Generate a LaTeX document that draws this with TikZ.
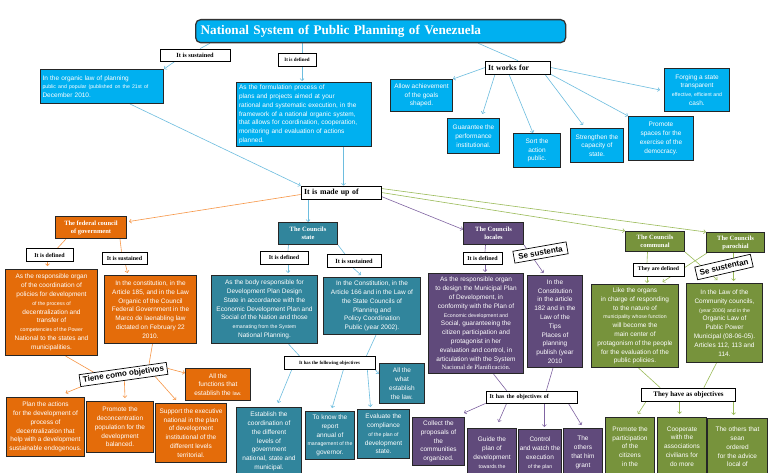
\documentclass[tikz,border=0pt]{standalone}
\usepackage{fontspec}
\setmainfont{Liberation Serif}
\newfontfamily\arialfont{Liberation Sans}
\usepackage{tikz}
\usetikzlibrary{arrows.meta,calc,backgrounds}
\definecolor{cyanfill}{HTML}{00B0F0}
\definecolor{orangefill}{HTML}{E46C0A}
\definecolor{tealfill}{HTML}{31859C}
\definecolor{purplefill}{HTML}{604A7B}
\definecolor{greenfill}{HTML}{77933C}
\definecolor{cyanline}{HTML}{6DBDDF}
\definecolor{orangeline}{HTML}{F79646}
\definecolor{purpleline}{HTML}{8064A2}
\definecolor{greenline}{HTML}{9BBB59}
\newcommand\boxfont{\arialfont\fontsize{6.5}{8.8}\selectfont}
\newcommand\sm{\fontsize{5.2}{8.8}\selectfont}

\begin{document}
\begin{tikzpicture}[x=1pt,y=-1pt,
  cellbox/.style={draw=black!85,line width=1pt,anchor=north west,align=center,text=white,font=\boxfont,inner sep=1pt},
  cbox/.style={cellbox,fill=cyanfill},
  obox/.style={cellbox,fill=orangefill},
  tbox/.style={cellbox,fill=tealfill},
  pbox/.style={cellbox,fill=purplefill},
  gbox/.style={cellbox,fill=greenfill},
  headbox/.style={draw=black!85,line width=1pt,anchor=north west,align=center,text=white,inner sep=1pt,font=\bfseries\fontsize{6.5}{8}\selectfont,minimum height=22pt},
  tagbox/.style={draw=black,line width=0.7pt,fill=white,inner sep=1pt,font=\bfseries\fontsize{#1}{#1}\selectfont},
  slantbox/.style={draw=black,line width=0.7pt,fill=white,inner sep=1pt,font=\arialfont\bfseries\fontsize{8}{8}\selectfont},
  cline/.style={draw=cyanline,line width=0.6pt},
  carr/.style={cline,-{Straight Barb[length=2pt,width=4pt]}},
  oline/.style={draw=orangeline,line width=0.6pt},
  oarr/.style={oline,-{Straight Barb[length=2pt,width=4pt]}},
  pline/.style={draw=purpleline,line width=0.6pt},
  parr/.style={pline,-{Straight Barb[length=2pt,width=4pt]}},
  gline/.style={draw=greenline,line width=0.6pt},
  garr/.style={gline,-{Straight Barb[length=2pt,width=4pt]}}
]
\useasboundingbox (0,0) rectangle (768,473);
\clip (0,0) rectangle (768,473);

% title and what the system works for
\node[draw=black!80,line width=1.3pt,rounded corners=5pt,fill=cyanfill,anchor=north west,minimum width=370pt,minimum height=23pt,text width=360pt,align=left,text=white,font=\bfseries\fontsize{13.2}{14}\selectfont] (title) at (195,19) {National System of Public Planning of Venezuela};
\node[tagbox=6.3,minimum width=70pt,minimum height=12pt] (lSust) at (195,55) {It is sustained};
\node[tagbox=5,minimum width=38pt,minimum height=13pt] (lDef) at (297,59.5) {It is defined};
\node[tagbox=7.8,minimum width=65pt,minimum height=13pt,text width=60pt,align=left] (lWorks) at (518,67.5) {It works for};
\node[cbox,minimum width=123pt,minimum height=34pt,text width=119pt,align=left] (bLaw) at (40,69) {In the organic law of planning\\{\sm public and popular (published on the 21st of}\\December 2010.};
\node[cbox,minimum width=135pt,minimum height=64pt,text width=130pt,align=left] (bDef) at (236,82) {As the formulation process of\\plans and projects aimed at your\\rational and systematic execution, in the\\framework of a national organic system,\\that allows for coordination, cooperation,\\monitoring and evaluation of actions\\planned.};
\node[cbox,minimum width=62pt,minimum height=32pt] (w1) at (390,79) {Allow achievement\\of the goals\\shaped.};
\node[cbox,minimum width=52pt,minimum height=35pt] (w2) at (447,118) {Guarantee the\\performance\\institutional.};
\node[cbox,minimum width=47pt,minimum height=34pt] (w3) at (513,133) {Sort the\\action\\public.};
\node[cbox,minimum width=53pt,minimum height=34pt] (w4) at (570,128) {Strengthen the\\capacity of\\state.};
\node[cbox,minimum width=65pt,minimum height=44pt] (w5) at (628,116) {Promote\\spaces for the\\exercise of the\\democracy.};
\node[cbox,minimum width=65pt,minimum height=43pt] (w6) at (664,68) {Forging a state\\transparent\\{\sm effective, efficient and}\\cash.};
\node[tagbox=7.8,minimum width=80pt,minimum height=13pt,text width=74pt,align=left] (lMade) at (341,192.5) {It is made up of};

% federal council
\node[headbox,fill=orangefill,minimum width=71pt] (fed) at (55,216) {The federal council\\of government};
\node[tagbox=6,minimum width=47pt,minimum height=13pt] (fedLdef) at (49.5,255) {It is defined};
\node[tagbox=6,minimum width=45pt,minimum height=12pt] (fedLsus) at (124.5,258) {It is sustained};
\node[obox,minimum width=92pt,minimum height=86pt] (fedDef) at (5,269) {As the responsible organ\\of the coordination of\\policies for development\\{\sm of the process of}\\decentralization and\\transfer of\\{\sm competencies of the Power}\\National to the states and\\municipalities.};
\node[obox,minimum width=92pt,minimum height=68pt] (fedSus) at (104,275) {In the constitution, in the\\Article 185, and in the Law\\Organic of the Council\\Federal Government in the\\Marco de laenabling law\\dictated on February 22\\2010.};
\node[slantbox,rotate=8,minimum width=88pt,minimum height=12pt] (fedObj) at (123.5,374.5) {Tiene como objetivos};
\node[obox,minimum width=65pt,minimum height=32pt] (fedAll) at (185,368) {All the\\functions that\\establish the {\sm law.}};
\node[obox,minimum width=78pt,minimum height=59pt] (fedO1) at (6,397) {Plan the actions\\for the development of\\process of\\decentralization that\\help with a development\\sustainable endogenous.};
\node[obox,minimum width=67pt,minimum height=51pt] (fedO2) at (86,401) {Promote the\\deconcentration\\population for the\\development\\balanced.};
\node[obox,minimum width=71pt,minimum height=59pt] (fedO3) at (155,403) {Support the executive\\national in the plan\\of development\\institutional of the\\different levels\\territorial.};

% state councils
\node[headbox,fill=tealfill,minimum width=59pt] (est) at (278,222) {The Councils\\state};
\node[tagbox=6,minimum width=48pt,minimum height=13pt] (estLdef) at (284,257.5) {It is defined};
\node[tagbox=6.3,minimum width=54pt,minimum height=13pt] (estLsus) at (354,261) {It is sustained};
\node[tbox,minimum width=106pt,minimum height=68pt] (estDef) at (211,275) {As the body responsible for\\Development Plan Design\\State in accordance with the\\Economic Development Plan and\\Social of the Nation and those\\{\sm emanating from the System}\\National Planning.};
\node[tbox,minimum width=97pt,minimum height=57pt] (estSus) at (323,277) {In the Constitution, in the\\Article 166 and in the Law of\\the State Councils of\\Planning and\\Policy Coordination\\Public (year 2002).};
\node[tagbox=4.8,minimum width=91pt,minimum height=13pt] (estObj) at (329.5,363) {It has the following objectives};
\node[tbox,minimum width=45pt,minimum height=40pt] (estAll) at (379,363) {All the\\what\\establish\\the law.};
\node[tbox,minimum width=65pt,minimum height=68pt] (estO1) at (236,407) {Establish the\\coordination of\\the different\\levels of\\government\\national, state and\\municipal.};
\node[tbox,minimum width=49pt,minimum height=48pt] (estO2) at (305,411) {To know the\\report\\annual of\\{\sm management of the}\\governor.};
\node[tbox,minimum width=52pt,minimum height=49pt] (estO3) at (357,409) {Evaluate the\\compliance\\{\sm of the plan of}\\development\\state.};

% local councils
\node[headbox,fill=purplefill,minimum width=60pt] (loc) at (463,222) {The Councils\\locales};
\node[tagbox=6,minimum width=39pt,minimum height=12pt] (locLdef) at (482.5,258) {It is defined};
\node[pbox,minimum width=95pt,minimum height=100pt] (locDef) at (428,273) {As the responsible organ\\to design the Municipal Plan\\of Development, in\\conformity with the Plan of\\{\sm Economic development and}\\Social, guaranteeing the\\citizen participation and\\protagonist in her\\evaluation and control, in\\articulation with the System\\{\rmfamily Nacional de Planificación.}};
\node[pbox,minimum width=55pt,minimum height=92pt] (locSus) at (527,275) {In the\\Constitution\\in the article\\182 and in the\\Law of the\\Tips\\Places of\\planning\\publish (year\\2010};
\node[slantbox,rotate=10,minimum width=54pt,minimum height=12pt] (locLsus) at (540.5,252.5) {Se sustenta};
\node[tagbox=6,minimum width=91pt,minimum height=12pt,text width=84pt,align=left] (locObj) at (531.5,397) {It has the objectives of};
\node[pbox,minimum width=52pt,minimum height=48pt] (locO1) at (412,417) {Collect the\\proposals of\\the\\communities\\organized.};
\node[pbox,minimum width=49pt,minimum height=48pt] (locO2) at (467,428) {Guide the\\plan of\\development\\{\sm towards the}};
\node[pbox,minimum width=43pt,minimum height=47pt] (locO3) at (518,429) {Control\\and watch the\\execution\\{\sm of the plan}};
\node[pbox,minimum width=39pt,minimum height=48pt] (locO4) at (563,428) {The\\others\\that him\\grant};

% communal and parochial councils
\node[headbox,fill=greenfill,minimum width=59pt,minimum height=20pt] (com) at (625,231) {The Councils\\communal};
\node[headbox,fill=greenfill,minimum width=58pt,minimum height=20pt] (par) at (706,232) {The Councils\\parochial};
\node[tagbox=5.7,minimum width=51pt,minimum height=13pt] (comLdef) at (658.5,269.5) {They are defined};
\node[gbox,minimum width=87pt,minimum height=83pt] (comDef) at (591,284) {Like the organs\\in charge of responding\\to the nature of\\{\sm municipality whose function}\\will become the\\main center of\\protagonism of the people\\for the evaluation of the\\public policies.};
\node[gbox,minimum width=76pt,minimum height=79pt] (comSus) at (686,283) {In the Law of the\\Community councils,\\{\sm (year 2006) and in the}\\Organic Law of\\Public Power\\Municipal (08-06-05).\\Articles 112, 113 and\\114.};
\node[slantbox,rotate=13,minimum width=57pt,minimum height=13pt] (comLsus) at (724,267) {Se sustentan};
\node[tagbox=7,minimum width=94pt,minimum height=13pt] (comObj) at (688.5,394.5) {They have as objectives};
\node[gbox,minimum width=49pt,minimum height=58pt] (comO1) at (605,417) {Promote the\\participation\\of the\\citizens\\in the};
\node[gbox,minimum width=49pt,minimum height=58pt] (comO2) at (657,417) {Cooperate\\with the\\associations\\civilians for\\do more};
\node[gbox,minimum width=60pt,minimum height=57pt] (comO3) at (707,418) {The others that\\sean\\ordered\\for the advice\\local of};

\begin{pgfonlayer}{background}
\fill[white] (0,0) rectangle (768,473);
% cyan links
\draw[cline] ([xshift=15pt]title.south west) -- ([xshift=5pt]lSust.north);
\draw[carr] ([xshift=-20pt]lSust.south) -- (bLaw.north east);
\coordinate (dA) at ([xshift=5pt]lDef.north);
\coordinate (dB) at ([xshift=5pt]lDef.south);
\draw[cline] (dA |- title.south) -- (dA);
\draw[carr,shorten >=1pt] (dB) -- (dB |- bDef.north);
\draw[cline] ([xshift=-88pt]title.south east) -- (lWorks.north);
\draw[carr] (lWorks.west) -- (w1.north east);
\draw[carr] ([xshift=-23pt]lWorks.south) -- ([xshift=9pt,yshift=4pt]w2.north);
\draw[carr] ([xshift=-9pt]lWorks.south) -- ([xshift=-4pt]w3.north);
\draw[carr] ([xshift=27pt]lWorks.south) -- ([xshift=-14pt,yshift=3pt]w4.north);
\draw[carr] (lWorks.south east) -- (w5.north west);
\draw[carr] (lWorks.east) -- ([xshift=-4pt]w6.west);
\draw[carr] ([xshift=28pt]bLaw.south) -- (lMade.north west);
\coordinate (dC) at ([xshift=39.5pt]bDef.south);
\draw[carr] (dC) -- (dC |- lMade.north);
\draw[carr] (est.north |- lMade.south) -- (est.north);
% orange links
\draw[oarr] ([yshift=-2pt]lMade.west) -- ([xshift=2pt,yshift=6pt]fed.east);
\draw[oline] ([xshift=-25pt]fed.south) -- ([xshift=8pt]fedLdef.north);
\draw[oarr] ([xshift=-2pt]fedLdef.south) -- ([xshift=-4pt,yshift=3pt]fedDef.north);
\draw[oline] ([xshift=29pt]fed.south) -- ([xshift=-3pt]fedLsus.north);
\draw[oarr] ([xshift=1pt]fedLsus.south) -- ([xshift=-23pt,yshift=2pt]fedSus.north);
\draw[oline] ([xshift=14pt]fedDef.south) -- ($(fedObj.north west)!0.17!(fedObj.north east)$);
\draw[oline] ([xshift=2pt]fedSus.south) -- ($(fedObj.north west)!0.8!(fedObj.north east)$);
\draw[oarr] (fedObj.east) -- ([yshift=-5pt]fedAll.north west);
\draw[oarr] (fedObj.south west) -- ([xshift=20pt,yshift=4pt]fedO1.north);
\draw[oarr] (fedObj.south) -- ([xshift=5pt,yshift=3pt]fedO2.north);
\draw[oarr] ($(fedObj.south west)!0.85!(fedObj.south east)$) -- ([xshift=-15pt,yshift=3pt]fedO3.north);
% teal links
\draw[cline] ([xshift=-19.5pt]est.south) -- ([xshift=4pt]estLdef.north);
\coordinate (dD) at ([xshift=4pt]estLdef.south);
\draw[carr,shorten >=2pt] (dD) -- (dD |- estDef.north);
\draw[cline] (est.south east) -- ([xshift=-9pt]estLsus.north);
\draw[carr] ([xshift=-1pt]estLsus.south) -- ([xshift=-11pt,yshift=2pt]estSus.north);
\draw[cline] ([xshift=24pt]estDef.south) -- ([xshift=16pt]estObj.north west);
\draw[cline] ([xshift=4pt]estSus.south) -- ([xshift=-9pt]estObj.north east);
\draw[carr] ([xshift=8pt]estObj.south west) -- ([xshift=9pt,yshift=4pt]estO1.north);
\draw[carr] ([xshift=-32pt]estObj.south east) -- ([xshift=2pt,yshift=3pt]estO2.north);
\draw[carr] ([xshift=-8pt]estObj.south east) -- ([xshift=-13pt,yshift=2pt]estO3.north);
\draw[carr] (estObj.south east) -- ([yshift=-11pt]estAll.north west);
% purple links
\draw[parr] ([yshift=-4pt]lMade.east) -- ([yshift=4pt]loc.west);
\draw[pline] ([xshift=-8pt]loc.south) -- ([xshift=2.5pt]locLdef.north);
\coordinate (dE) at ([xshift=2.5pt]locLdef.south);
\draw[parr,shorten >=1pt] (dE) -- (dE |- locDef.north);
\draw[parr] (loc.south east) -- ([xshift=-11.5pt,yshift=2pt]locSus.north);
\draw[pline] ([xshift=17.5pt]locDef.south) -- ([xshift=21pt]locObj.north west);
\draw[pline] ([xshift=-2pt]locSus.south) -- ([xshift=-31pt]locObj.north east);
\draw[parr] (locObj.south west) -- ([xshift=-1pt,yshift=4pt]locO1.north east);
\draw[parr] ([xshift=21pt]locObj.south west) -- ([xshift=6.5pt,yshift=6pt]locO2.north);
\coordinate (dF) at ([xshift=-33pt]locObj.south east);
\draw[parr,shorten >=2pt] (dF) -- (dF |- locO3.north);
\draw[parr] ([xshift=-9pt]locObj.south east) -- ([xshift=-1.5pt,yshift=3pt]locO4.north);
% green links
\draw[garr] ([yshift=4pt]lMade.east) -- (par.north west);
\draw[garr] (lMade.east) -- (com.north west);
\draw[gline] ([xshift=-7.5pt]com.south) -- ([xshift=-11.5pt]comLdef.north);
\coordinate (dG) at ([xshift=-11.5pt]comLdef.south);
\draw[garr,shorten >=1pt] (dG) -- (dG |- comDef.north);
\draw[garr] ([xshift=1pt]par.south west) -- ([xshift=27.5pt,yshift=2pt]comDef.north);
\draw[garr] (com.south east) -- ([xshift=-7pt,yshift=3pt]comSus.north);
\draw[garr] ([xshift=-2pt]par.south) -- ([xshift=9pt,yshift=2pt]comSus.north);
\draw[gline] ([xshift=3.5pt]comDef.south) -- ([xshift=19pt]comObj.north west);
\draw[gline] ([xshift=-8pt]comSus.south) -- ([xshift=-32pt]comObj.north east);
\draw[garr] ([xshift=5pt]comObj.south west) -- ([xshift=8pt,yshift=3pt]comO1.north);
\coordinate (dH) at ([xshift=-2.5pt]comO2.north);
\draw[garr,shorten >=3pt] (dH |- comObj.south) -- (dH);
\coordinate (dI) at ([xshift=-4pt]comO3.north);
\draw[garr,shorten >=3pt] (dI |- comObj.south) -- (dI);
\end{pgfonlayer}
\end{tikzpicture}
\end{document}
